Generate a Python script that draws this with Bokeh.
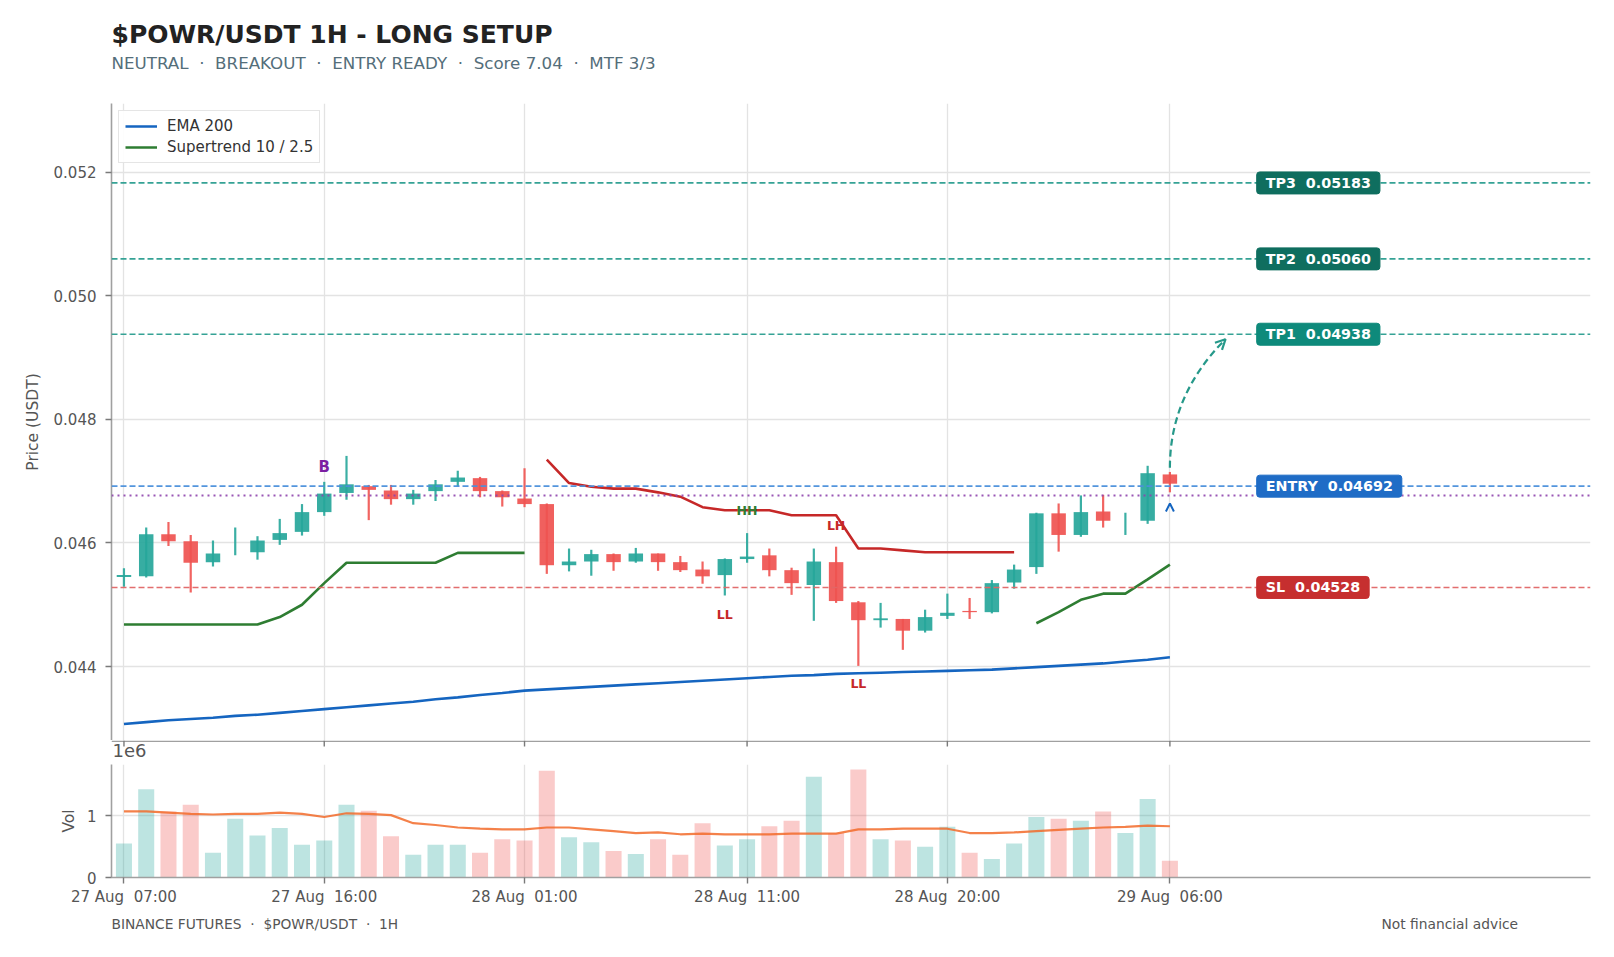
from bokeh.plotting import figure
from bokeh.layouts import column
from bokeh.models import (Span, Label, Legend, FixedTicker, Range1d, Arrow, OpenHead,
                          CustomJSTickFormatter)
from bokeh.embed import file_html
from bokeh.resources import INLINE

nan = float("nan")

# ---------------- data ----------------
opens = [0.04545, 0.04546, 0.04614, 0.04603, 0.04569, 0.04600, 0.04585, 0.04605, 0.04618, 0.04650,
         0.04681, 0.04692, 0.04685, 0.04671, 0.04684, 0.04699, 0.04705, 0.04684, 0.04672, 0.04663,
         0.04564, 0.04570, 0.04582, 0.04570, 0.04583, 0.04569, 0.04557, 0.04548, 0.04574, 0.04580,
         0.04556, 0.04532, 0.04569, 0.04504, 0.04475, 0.04477, 0.04458, 0.04482, 0.04490, 0.04488,
         0.04536, 0.04561, 0.04648, 0.04613, 0.04651, 0.04630, 0.04636, 0.04711]
highs = [0.04559, 0.04625, 0.04634, 0.04613, 0.04604, 0.04625, 0.04611, 0.04639, 0.04663, 0.04699,
         0.04741, 0.04694, 0.04694, 0.04686, 0.04702, 0.04717, 0.04707, 0.04685, 0.04721, 0.04664,
         0.04591, 0.04589, 0.04583, 0.04592, 0.04583, 0.04579, 0.04570, 0.04575, 0.04616, 0.04591,
         0.04560, 0.04591, 0.04594, 0.04506, 0.04503, 0.04477, 0.04492, 0.04518, 0.04511, 0.04540,
         0.04565, 0.04649, 0.04664, 0.04677, 0.04678, 0.04649, 0.04725, 0.04715]
lows = [0.04529, 0.04544, 0.04595, 0.04520, 0.04562, 0.04580, 0.04573, 0.04597, 0.04612, 0.04644,
        0.04670, 0.04637, 0.04662, 0.04662, 0.04668, 0.04692, 0.04674, 0.04659, 0.04658, 0.04550,
        0.04554, 0.04547, 0.04555, 0.04568, 0.04555, 0.04553, 0.04534, 0.04515, 0.04568, 0.04546,
        0.04516, 0.04474, 0.04503, 0.04401, 0.04463, 0.04427, 0.04455, 0.04477, 0.04477, 0.04486,
        0.04526, 0.04550, 0.04586, 0.04610, 0.04625, 0.04613, 0.04631, 0.04682]
closes = [0.04548, 0.04614, 0.04603, 0.04568, 0.04583, 0.04600, 0.04604, 0.04616, 0.04650, 0.04680,
          0.04695, 0.04686, 0.04671, 0.04680, 0.04695, 0.04706, 0.04684, 0.04674, 0.04663, 0.04564,
          0.04570, 0.04582, 0.04569, 0.04583, 0.04569, 0.04556, 0.04546, 0.04574, 0.04578, 0.04556,
          0.04535, 0.04570, 0.04506, 0.04475, 0.04478, 0.04458, 0.04480, 0.04487, 0.04488, 0.04535,
          0.04557, 0.04648, 0.04613, 0.04650, 0.04636, 0.04630, 0.04713, 0.04696]
volumes = [0.55e6, 1.43e6, 1.07e6, 1.18e6, 0.40e6, 0.95e6, 0.68e6, 0.80e6, 0.53e6, 0.60e6,
           1.18e6, 1.08e6, 0.67e6, 0.37e6, 0.53e6, 0.53e6, 0.40e6, 0.62e6, 0.60e6, 1.73e6,
           0.65e6, 0.57e6, 0.43e6, 0.38e6, 0.62e6, 0.37e6, 0.88e6, 0.52e6, 0.62e6, 0.83e6,
           0.92e6, 1.63e6, 0.72e6, 1.75e6, 0.62e6, 0.60e6, 0.50e6, 0.82e6, 0.40e6, 0.30e6,
           0.55e6, 0.98e6, 0.95e6, 0.92e6, 1.07e6, 0.72e6, 1.27e6, 0.27e6]
vol_ma = [1.07e6, 1.07e6, 1.05e6, 1.03e6, 1.02e6, 1.03e6, 1.03e6, 1.05e6, 1.03e6, 0.98e6,
          1.04e6, 1.03e6, 1.01e6, 0.88e6, 0.85e6, 0.81e6, 0.79e6, 0.78e6, 0.78e6, 0.81e6,
          0.81e6, 0.78e6, 0.75e6, 0.72e6, 0.73e6, 0.70e6, 0.71e6, 0.70e6, 0.70e6, 0.70e6,
          0.71e6, 0.71e6, 0.71e6, 0.78e6, 0.78e6, 0.79e6, 0.79e6, 0.79e6, 0.72e6, 0.72e6,
          0.73e6, 0.75e6, 0.77e6, 0.79e6, 0.81e6, 0.82e6, 0.84e6, 0.83e6]
ema200 = [0.04307, 0.04310, 0.04313, 0.04315, 0.04317, 0.04320, 0.04322, 0.04325, 0.04328, 0.04331,
          0.04334, 0.04337, 0.04340, 0.04343, 0.04347, 0.04350, 0.04354, 0.04357, 0.04361, 0.04363,
          0.04365, 0.04367, 0.04369, 0.04371, 0.04373, 0.04375, 0.04377, 0.04379, 0.04381, 0.04383,
          0.04385, 0.04386, 0.04388, 0.04389, 0.04390, 0.04391, 0.04392, 0.04393, 0.04394, 0.04395,
          0.04397, 0.04399, 0.04401, 0.04403, 0.04405, 0.04408, 0.04411, 0.04415]
st_up = [0.04468, 0.04468, 0.04468, 0.04468, 0.04468, 0.04468, 0.04468, 0.04480, 0.04500, 0.04535,
         0.04568, 0.04568, 0.04568, 0.04568, 0.04568, 0.04584, 0.04584, 0.04584, 0.04584, nan,
         nan, nan, nan, nan, nan, nan, nan, nan, nan, nan,
         nan, nan, nan, nan, nan, nan, nan, nan, nan, nan,
         nan, 0.04470, 0.04488, 0.04508, 0.04518, 0.04518, 0.04541, 0.04565]
st_down = [nan, nan, nan, nan, nan, nan, nan, nan, nan, nan,
           nan, nan, nan, nan, nan, nan, nan, nan, nan, 0.04735,
           0.04697, 0.04691, 0.04688, 0.04688, 0.04682, 0.04675, 0.04658, 0.04653, 0.04653, 0.04653,
           0.04645, 0.04645, 0.04645, 0.04591, 0.04591, 0.04588, 0.04585, 0.04585, 0.04585, 0.04585,
           0.04585, nan, nan, nan, nan, nan, nan, nan]

tick_idx = [0, 9, 18, 28, 37, 47]
tick_labels = ["27 Aug  07:00", "27 Aug  16:00", "28 Aug  01:00",
               "28 Aug  11:00", "28 Aug  20:00", "29 Aug  06:00"]
price_ticks = [0.044, 0.046, 0.048, 0.050, 0.052]

level_names = ["TP3", "TP2", "TP1", "ENTRY", "SL"]
level_prices = [0.05183, 0.05060, 0.04938, 0.04692, 0.04528]
level_line_colors = ["#2a9d8f", "#2a9d8f", "#2a9d8f", "#4a8fdb", "#e06666"]
level_box_colors = ["#0f6e5f", "#0f6e5f", "#0e8a7b", "#1f6cc6", "#c62f2f"]
break_level = 0.04677

piv_idx = [27, 28, 32, 33]
piv_price = [0.04485, 0.04652, 0.04628, 0.04373]
piv_text = ["LL", "HH", "LH", "LL"]
piv_color = ["#c62828", "#2e7d32", "#c62828", "#c62828"]
b_idx, b_price = 9, 0.04723

arrow_start = (47, 0.04722)
arrow_ctrl = (47, 0.04840)
arrow_end = (49.5, 0.04930)
caret_idx, caret_price = 47, 0.04664

title_text = "$POWR/USDT 1H - LONG SETUP"
subtitle_text = "NEUTRAL  ·  BREAKOUT  ·  ENTRY READY  ·  Score 7.04  ·  MTF 3/3"
footer_left = "BINANCE FUTURES  ·  $POWR/USDT  ·  1H"
footer_right = "Not financial advice"

TEAL = "#26a69a"
RED = "#ef5350"
FONT = "DejaVu Sans"
NB = "\u00a0\u00a0"


def keep(s):
    return s.replace("  ", NB)


x = list(range(len(opens)))
colors = [TEAL if c >= o else RED for o, c in zip(opens, closes)]
body_top = [max(o, c) for o, c in zip(opens, closes)]
body_bot = [min(o, c) for o, c in zip(opens, closes)]

XR = Range1d(-0.56, 65.9)
FW = 1479
LB, RB = 111, 16


def style_axis(ax):
    ax.axis_line_color = "#a0a0a0"
    ax.axis_line_width = 1.6
    ax.major_tick_line_color = "#7a7a7a"
    ax.major_tick_line_width = 1.4
    ax.major_tick_out = 6
    ax.major_tick_in = 0
    ax.minor_tick_line_color = None
    ax.major_label_text_font = FONT
    ax.major_label_text_font_size = "15px"
    ax.major_label_text_color = "#555555"
    ax.axis_label_text_font = FONT
    ax.axis_label_text_font_style = "normal"
    ax.axis_label_text_color = "#555555"
    ax.axis_label_text_font_size = "15.5px"


def style_grid(p):
    p.xgrid.grid_line_color = "#e3e3e3"
    p.ygrid.grid_line_color = "#e3e3e3"
    p.xgrid.grid_line_width = 1.3
    p.ygrid.grid_line_width = 1.3
    p.outline_line_color = None


def bare(h, xr=None, yr=None):
    f = figure(frame_width=FW, frame_height=h, x_range=xr or Range1d(0, FW),
               y_range=yr or Range1d(0, h), x_axis_type=None, y_axis_type=None,
               output_backend="svg", toolbar_location=None,
               min_border_left=LB, min_border_right=RB, min_border_top=0, min_border_bottom=0)
    f.outline_line_color = None
    f.xgrid.visible = False
    f.ygrid.visible = False
    return f


# ---------------- header ----------------
HEAD_H = 103
head = bare(HEAD_H)
head.add_layout(Label(x=0, y=HEAD_H - 34, text=title_text, text_font=FONT,
                      text_font_style="bold", text_font_size="25px", text_color="#222222",
                      text_baseline="middle"))
head.add_layout(Label(x=0, y=HEAD_H - 62, text=keep(subtitle_text), text_font=FONT,
                      text_font_size="16.7px", text_color="#546e7a", text_baseline="middle"))

# ---------------- price panel ----------------
p1 = figure(frame_width=FW, frame_height=637, x_range=XR, y_range=Range1d(0.042802, 0.053116),
            output_backend="svg", toolbar_location=None, x_axis_location=None,
            min_border_left=LB, min_border_right=RB, min_border_top=0, min_border_bottom=0)
yax = p1.yaxis[0]
style_axis(yax)
yax.ticker = FixedTicker(ticks=price_ticks)
yax.formatter = CustomJSTickFormatter(code="return tick.toFixed(3);")
yax.axis_label = "Price (USDT)"
yax.major_label_standoff = 9
yax.axis_label_standoff = 9
style_grid(p1)
p1.xgrid.ticker = FixedTicker(ticks=tick_idx)

for name, lv, lc in zip(level_names, level_prices, level_line_colors):
    p1.add_layout(Span(location=lv, dimension="width", line_color=lc, line_width=1.6,
                       line_dash="6 3", line_alpha=0.95))
p1.add_layout(Span(location=break_level, dimension="width", line_color="#8e44ad",
                   line_width=2, line_dash="2 4", line_alpha=0.9))

ema_r = p1.line(x, ema200, line_color="#1565c0", line_width=2.6)
st_r = p1.line(x, st_up, line_color="#2e7d32", line_width=2.6)
p1.line(x, st_down, line_color="#c62828", line_width=2.6)

p1.segment(x, highs, x, lows, line_color=colors, line_width=2.2, line_alpha=0.9)
p1.vbar(x=x, width=0.65, top=body_top, bottom=body_bot, fill_color=colors,
        fill_alpha=0.92, line_alpha=0)

for i, pr, t, c in zip(piv_idx, piv_price, piv_text, piv_color):
    p1.add_layout(Label(x=i, y=pr, text=t, text_color=c, text_font=FONT,
                        text_font_style="bold", text_font_size="12.5px",
                        text_align="center", text_baseline="middle"))
p1.add_layout(Label(x=b_idx, y=b_price, text="B", text_color="#7b1fa2", text_font=FONT,
                    text_font_style="bold", text_font_size="15px",
                    text_align="center", text_baseline="middle"))

for name, lv, bc in zip(level_names, level_prices, level_box_colors):
    p1.add_layout(Label(x=50.9, y=lv, text=f"{name}{NB}{lv:.5f}", text_color="white",
                        text_font=FONT, text_font_style="bold", text_font_size="14.3px",
                        text_align="left", text_baseline="middle",
                        background_fill_color=bc, background_fill_alpha=1.0,
                        border_line_color=bc, border_radius=3,
                        padding=dict(left=9, right=9, top=3, bottom=3)))

ARC = "#26998a"
p1.quadratic(x0=[arrow_start[0]], y0=[arrow_start[1]], x1=[arrow_end[0]], y1=[arrow_end[1]],
             cx=[arrow_ctrl[0]], cy=[arrow_ctrl[1]], line_color=ARC, line_width=2.2,
             line_dash="7 4")
ddx = arrow_end[0] - arrow_ctrl[0]
ddy = arrow_end[1] - arrow_ctrl[1]
p1.add_layout(Arrow(end=OpenHead(size=10, line_color=ARC, line_width=2.2),
                    x_start=arrow_end[0] - 0.1 * ddx, y_start=arrow_end[1] - 0.1 * ddy,
                    x_end=arrow_end[0], y_end=arrow_end[1], line_alpha=0))
p1.add_layout(Arrow(end=OpenHead(size=8, line_color="#1565c0", line_width=2),
                    x_start=caret_idx, y_start=caret_price - 0.00012,
                    x_end=caret_idx, y_end=caret_price, line_alpha=0))

legend = Legend(items=[("EMA 200", [ema_r]), ("Supertrend 10 / 2.5", [st_r])],
                location="top_left", margin=7, padding=6, spacing=3,
                glyph_width=32, glyph_height=18, label_standoff=10,
                label_text_font=FONT, label_text_font_size="15px",
                label_text_color="#333333", border_line_color="#cccccc",
                border_line_width=1.2, background_fill_alpha=0.9)
p1.add_layout(legend)

# ---------------- gap strip: price x-axis spine, ticks and the 1e6 offset ----------------
GAP_H = 24
gap = bare(GAP_H, xr=XR)
gap.segment(x0=[XR.start], y0=[GAP_H - 0.8], x1=[XR.end], y1=[GAP_H - 0.8],
            line_color="#a0a0a0", line_width=1.6)
gap.segment(x0=tick_idx, y0=[GAP_H] * len(tick_idx), x1=tick_idx, y1=[GAP_H - 6] * len(tick_idx),
            line_color="#7a7a7a", line_width=1.4)
gap.add_layout(Label(x=1, y=GAP_H - 10, x_units="screen", y_units="screen", text="1e6",
                     text_font=FONT, text_font_size="18px", text_color="#555555",
                     text_baseline="middle"))

# ---------------- volume panel ----------------
p2 = figure(frame_width=FW, frame_height=113, x_range=XR, y_range=Range1d(0, 1.83e6),
            output_backend="svg", toolbar_location=None,
            min_border_left=LB, min_border_right=RB, min_border_top=0, min_border_bottom=0)
style_axis(p2.xaxis[0])
style_axis(p2.yaxis[0])
style_grid(p2)
p2.xaxis.ticker = FixedTicker(ticks=tick_idx)
p2.xaxis.major_label_overrides = {i: keep(t) for i, t in zip(tick_idx, tick_labels)}
p2.xaxis.major_label_standoff = 4
p2.yaxis.ticker = FixedTicker(ticks=[0, 1e6])
p2.yaxis.formatter = CustomJSTickFormatter(code="return (tick/1e6).toFixed(0);")
p2.yaxis.axis_label = "Vol"
p2.yaxis.major_label_standoff = 9
p2.yaxis.axis_label_standoff = 6

p2.vbar(x=x, width=0.72, top=volumes, bottom=0, fill_color=colors, fill_alpha=0.3,
        line_alpha=0)
p2.line(x, vol_ma, line_color="#f26b2a", line_width=2.2, line_alpha=0.85)

# ---------------- footer ----------------
FOOT_H = 40
foot = bare(FOOT_H)
foot.add_layout(Label(x=0, y=FOOT_H - 15, text=keep(footer_left), text_font=FONT,
                      text_font_size="13.8px", text_color="#555555", text_baseline="middle"))
foot.add_layout(Label(x=1270, y=FOOT_H - 15, text=footer_right, text_font=FONT,
                      text_font_size="13.8px", text_color="#555555", text_baseline="middle"))

layout = column(head, p1, gap, p2, foot, spacing=0)
open("out.html", "w").write(file_html(layout, INLINE))
